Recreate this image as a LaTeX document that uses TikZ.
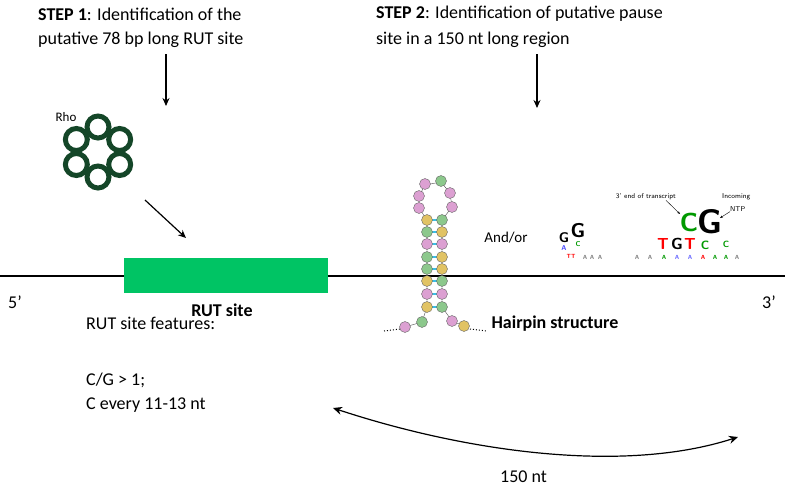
\documentclass[tikz,border=0pt]{standalone}
\usepackage{fontspec}
\setmainfont{Carlito}
\usetikzlibrary{arrows.meta}
\definecolor{rutg}{RGB}{0,196,100}
\definecolor{rhog}{RGB}{20,70,40}
\definecolor{nA}{RGB}{220,160,210}
\definecolor{nU}{RGB}{140,200,140}
\definecolor{nG}{RGB}{225,195,100}
\definecolor{bp}{RGB}{60,190,230}
\begin{document}
\begin{tikzpicture}[x=1pt,y=-1pt,
  txt/.style={font=\fontsize{18}{20}\selectfont,anchor=west,inner sep=0},
  arr/.style={-{Stealth[length=8pt,width=7pt]},line width=1.2pt},
  nt/.style={circle,draw=black!60,line width=0.4pt,minimum size=11pt,inner sep=0},
  lg/.style={font=\sffamily\bfseries,inner sep=0,anchor=south}]
\useasboundingbox (0,0) rectangle (785,493);
\node[txt] (s1a) at (38,14) {\textbf{STEP 1}: Identification of the};
\node[txt] (s1b) at (38,40) {putative 78 bp long RUT site};
\node[txt] (s2a) at (376,14) {\textbf{STEP 2}: Identification of putative pause};
\node[txt] (s2b) at (376,40) {site in a 150 nt long region};
\coordinate (a1s) at (166,54); \coordinate (a1e) at (166,106);
\coordinate (a2s) at (537,54); \coordinate (a2e) at (537,108);
\draw[arr] (a1s) -- (a1e);
\draw[arr] (a2s) -- (a2e);
\draw[line width=1.5pt] (0,276) coordinate (L0) -- (785,276) coordinate (L1);
\node[draw=rutg,fill=rutg,minimum width=203pt,minimum height=34pt,inner sep=0] (rut) at (225.5,275) {};
\node[font=\fontsize{13}{14}\selectfont] (rho) at (66,117) {Rho};
\foreach \i in {0,...,5}{
  \node[circle,draw=rhog,line width=5pt,minimum size=22pt,inner sep=0] (r\i) at ({98+25*cos(60*\i+30)},{152-25*sin(60*\i+30)}) {};
}
\coordinate (a3s) at (145,200); \coordinate (a3e) at (186,238);
\draw[arr] (a3s) -- (a3e);
\node[txt] (p5) at (8,302) {5’};
\node[txt] (p3) at (762,302) {3’};
\node[font=\fontsize{18}{20}\selectfont\bfseries] (rutl) at (222,310) {RUT site};
% hairpin
\foreach \y [count=\k] in {220,232,244,257,269,281,294,307}{
  \draw[bp,line width=2.5pt] (427,\y) -- (442,\y);
}
\draw[black!70] (405,327) -- (422,322) -- (427,307) -- (427,220) -- (419,208) -- (419,196) -- (425,185) -- (441,182) -- (450,193) -- (452,207) -- (442,220) -- (442,307) -- (452,321) -- (464,326);
\draw[dotted,line width=1pt] (384,331) -- (400,329);
\draw[dotted,line width=1pt] (470,329) -- (487,331);
\foreach \x/\y/\c in {427/220/nG,427/232/nU,427/244/nA,427/257/nU,427/269/nU,427/281/nG,427/294/nA,427/307/nG,
 442/220/nU,442/232/nG,442/244/nA,442/257/nG,442/269/nG,442/281/nU,442/294/nA,442/307/nU,
 419/208/nA,419/196/nA,425/184/nA,441/181/nU,450/193/nA,452/207/nA,422/322/nU,405/327/nA,452/321/nA,464/326/nG}{
  \node[nt,fill=\c] at (\x,\y) {};
}
\node[font=\fontsize{15}{16}\selectfont] (andor) at (506,238) {And/or};
% sequence logo
\node[lg,font=\sffamily\bfseries\fontsize{14}{14}\selectfont] (g1) at (564,243) {G};
\node[lg,font=\sffamily\bfseries\fontsize{20}{20}\selectfont] (g2) at (578,238) {G};
\node[lg,font=\sffamily\bfseries\fontsize{7}{7}\selectfont,text=blue!70] at (564,251) {A};
\node[lg,font=\sffamily\bfseries\fontsize{7}{7}\selectfont,text=green!60!black] at (578,247) {C};
\node[lg,font=\sffamily\bfseries\fontsize{6}{6}\selectfont,text=red] at (571,259) {TT};
\node[lg,font=\sffamily\bfseries\fontsize{16}{16}\selectfont,text=red] at (663,250) {T};
\node[lg,font=\sffamily\bfseries\fontsize{16}{16}\selectfont] at (677,250) {G};
\node[lg,font=\sffamily\bfseries\fontsize{16}{16}\selectfont,text=red] at (690,250) {T};
\node[lg,font=\sffamily\bfseries\fontsize{26}{26}\selectfont,text=green!60!black] at (689,232) {C};
\node[lg,font=\sffamily\bfseries\fontsize{34}{34}\selectfont] at (710,234) {G};
\node[lg,font=\sffamily\bfseries\fontsize{12}{12}\selectfont,text=green!60!black] at (705,250) {C};
\node[lg,font=\sffamily\bfseries\fontsize{9}{9}\selectfont,text=green!60!black] at (726,248) {C};
\foreach \x/\c in {585/gray,592/gray,600/gray,637/gray,650/gray,664/green!60!black,677/blue!60,690/blue!60,703/red,715/green!60!black,726/green!60!black,737/gray}{
  \node[lg,font=\sffamily\bfseries\fontsize{6}{6}\selectfont,text=\c] at (\x,260) {A};
}
\node[font=\sffamily\fontsize{7}{8}\selectfont,anchor=east,inner sep=0] (e3) at (676,197) {3’ end of transcript};
\node[font=\sffamily\fontsize{7}{8}\selectfont,anchor=west,inner sep=0] (inc) at (722,197) {Incoming};
\node[font=\sffamily\fontsize{7}{8}\selectfont,anchor=west,inner sep=0] (ntp) at (730,209) {NTP};
\coordinate (e3t) at (680,214); \coordinate (ntpt) at (720,218);
\draw[-{Stealth[length=3pt]},line width=0.4pt] (e3.south east) ++(-10,0) -- (e3t);
\draw[-{Stealth[length=3pt]},line width=0.4pt] (ntp.south west) -- (ntpt);
\node[font=\fontsize{18}{20}\selectfont\bfseries] (hp) at (555,324) {Hairpin structure};
\node[txt] (f1) at (86,323) {RUT site features:};
\node[txt] (f2) at (86,380) {C/G {\textgreater} 1;};
\node[txt] (f3) at (86,405) {C every 11-13 nt};
\coordinate (c1) at (333,408); \coordinate (c2) at (738,437);
\draw[{Stealth[length=9pt,width=8pt]}-{Stealth[length=9pt,width=8pt]},line width=1.2pt] (c1) .. controls (460,450) and (620,475) .. (c2);
\node[txt] (nt) at (500,477) {150 nt};
\end{tikzpicture}
\end{document}
